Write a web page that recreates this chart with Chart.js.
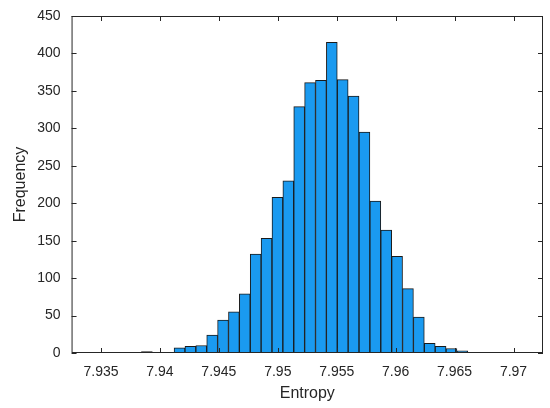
<!DOCTYPE html>
<html><head><script src="https://cdn.jsdelivr.net/npm/chart.js@4"></script>
<style>html,body{margin:0;background:#fff}#wrap{width:550px;height:408px}</style></head>
<body><div id="wrap"><canvas id="c"></canvas></div>
<script>
// histogram bins
const binStart = 7.93843;
const binWidth = 0.000923;
const counts = [2, 1, 1, 7, 9, 10, 24, 44, 55, 79, 132, 153, 208, 230, 329, 361,
  364, 415, 365, 343, 295, 203, 164, 129, 86, 48, 13, 9, 6, 3, 1, 1];
const xTicks = [7.935, 7.94, 7.945, 7.95, 7.955, 7.96, 7.965, 7.97];
const yTicks = [0, 50, 100, 150, 200, 250, 300, 350, 400, 450];

const points = counts.map((c, i) => ({x: binStart + binWidth * (i + 0.5), y: c}));

const boxPlugin = {
  id: 'box',
  afterDraw(chart) {
    const {ctx, chartArea: a, scales} = chart;
    ctx.save();
    ctx.strokeStyle = '#262626';
    ctx.lineWidth = 1;
    ctx.strokeRect(a.left + 0.5, a.top + 0.5, a.right - a.left - 1, a.bottom - a.top - 1);
    ctx.beginPath();
    xTicks.forEach(t => {
      const x = Math.round(scales.x.getPixelForValue(t)) + 0.5;
      ctx.moveTo(x, a.bottom); ctx.lineTo(x, a.bottom - 5);
      ctx.moveTo(x, a.top); ctx.lineTo(x, a.top + 5);
    });
    yTicks.forEach(t => {
      const y = Math.round(scales.y.getPixelForValue(t)) + 0.5;
      ctx.moveTo(a.left, y); ctx.lineTo(a.left + 5, y);
      ctx.moveTo(a.right, y); ctx.lineTo(a.right - 5, y);
    });
    ctx.stroke();
    ctx.restore();
  }
};

new Chart(document.getElementById('c'), {
  type: 'bar',
  data: {
    datasets: [{
      data: points,
      backgroundColor: '#1a9af0',
      borderColor: '#1a1a1a',
      borderWidth: 1,
      borderSkipped: false,
      barPercentage: 1,
      categoryPercentage: 1,
      grouped: false
    }]
  },
  options: {
    responsive: true,
    maintainAspectRatio: false,
    animation: false,
    layout: {padding: {top: 16, right: 7, left: 7, bottom: 1}},
    plugins: {legend: {display: false}, tooltip: {enabled: false}},
    scales: {
      x: {
        type: 'linear', min: 7.935, max: 7.97,
        afterBuildTicks: s => { s.ticks = xTicks.map(v => ({value: v})); },
        grid: {display: false},
        border: {display: false},
        ticks: {color: '#262626', font: {family: 'Arial, Liberation Sans', size: 14}, maxRotation: 0,
          callback: v => String(+v.toFixed(3))},
        title: {display: true, text: 'Entropy', color: '#262626', font: {family: 'Arial, Liberation Sans', size: 16}, padding: {top: 0}}
      },
      y: {
        min: 0, max: 450,
        afterBuildTicks: s => { s.ticks = yTicks.map(v => ({value: v})); },
        grid: {display: false},
        border: {display: false},
        ticks: {color: '#262626', font: {family: 'Arial, Liberation Sans', size: 14}},
        title: {display: true, text: 'Frequency', color: '#262626', font: {family: 'Arial, Liberation Sans', size: 16}}
      }
    }
  },
  plugins: [boxPlugin]
});
</script></body></html>
